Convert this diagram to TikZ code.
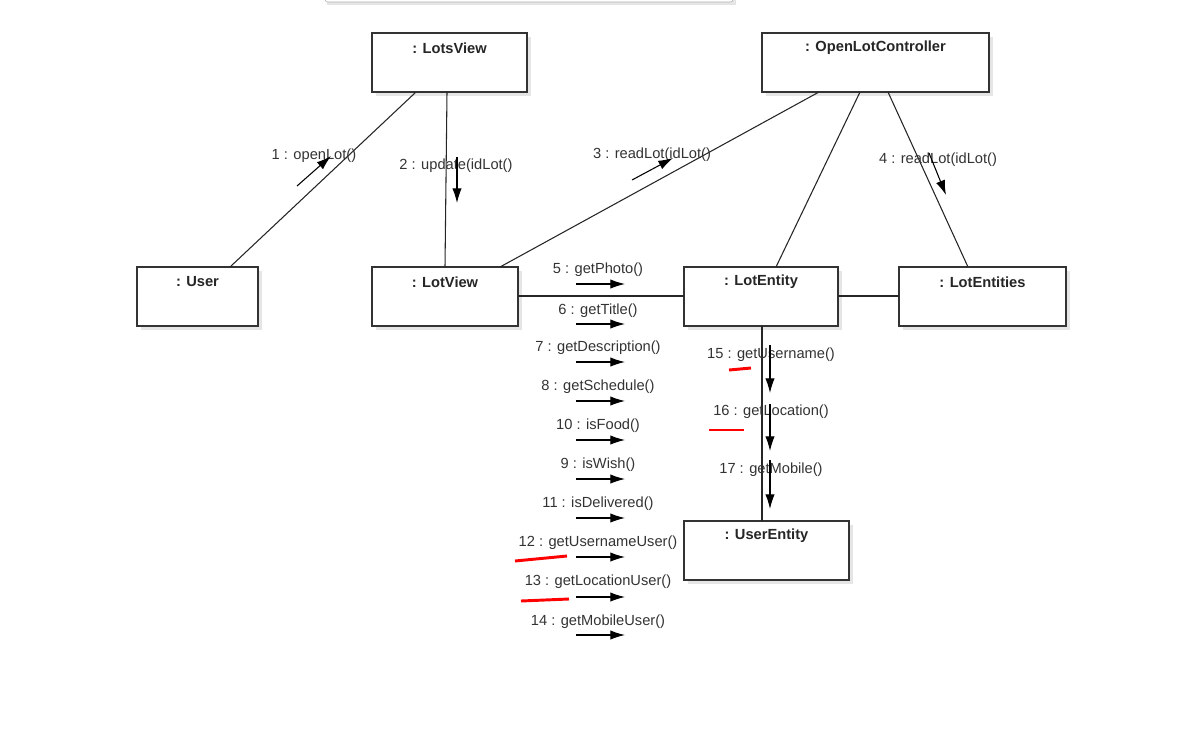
\documentclass[tikz,border=0pt]{standalone}
\usepackage{fontspec}
\setmainfont{Liberation Sans}
\usetikzlibrary{arrows.meta}
\begin{document}
\begin{tikzpicture}[x=0.75pt,y=-0.75pt,
 box/.style={draw=black!80,line width=0.9pt,fill=white},
 sh/.style={fill=black!10,draw=none},
 ttl/.style={font=\fontsize{11}{13}\selectfont\bfseries,text=black!85},
 lbl/.style={font=\fontsize{11}{13}\selectfont,text=black!80,fill=none},
 ln/.style={draw=black!85,line width=0.8pt},
 msg/.style={draw=black,line width=0.8pt,-{Latex[length=11pt,width=7pt]}},
 red/.style={draw=red,line width=2.2pt}]
\useasboundingbox (0,0) rectangle (1197,743);
% partial top box
\fill[black!10] (327,0) rectangle (736,5);
\draw[draw=black!30,fill=white,rounded corners=2pt] (325,-5) rectangle (733,2);
% shadows + boxes
\foreach \n/\a/\b/\c/\d/\t in {lv/372/33/527/92/{: LotsView},olc/762/33/989/92/{: OpenLotController},us/137/267/258/326/{: User},lw/372/267/518/326/{: LotView},le/684/267/838/326/{: LotEntity},les/899/267/1066/326/{: LotEntities},ue/684/521/849/580/{: UserEntity}}{
 \fill[sh] (\a+4,\b+4) rectangle (\c+4,\d+4);
 \draw[box] (\a,\b) rectangle (\c,\d);
 \node[ttl,anchor=center] (\n) at ({(\a+\c)/2},\b+15) {\t};
}
% connectors
\coordinate (a1) at (416,92); \coordinate (a2) at (230,267);
\draw[ln] (a1) -- (a2);
\coordinate (b1) at (447,92); \coordinate (b2) at (445,267);
\draw[ln] (b1) -- (b2);
\coordinate (c1) at (819,92); \coordinate (c2) at (500,267);
\draw[ln] (c1) -- (c2);
\coordinate (d1) at (860,92); \coordinate (d2) at (776,267);
\draw[ln] (d1) -- (d2);
\coordinate (e1) at (888,92); \coordinate (e2) at (968,267);
\draw[ln] (e1) -- (e2);
\coordinate (f1) at (518,296); \coordinate (f2) at (684,296);
\draw[ln] (f1) -- (f2);
\coordinate (g1) at (838,296); \coordinate (g2) at (899,296);
\draw[ln] (g1) -- (g2);
\coordinate (h1) at (762,326); \coordinate (h2) at (762,521);
\draw[ln] (h1) -- (h2);
% messages
\node[lbl] (m1) at (314,156) {1 : openLot()};
\coordinate (m1a) at (297,186); \coordinate (m1b) at (331,156);
\draw[msg] (m1a) -- (m1b);
\node[lbl] (m2) at (456,166) {2 : update(idLot()};
\coordinate (m2a) at (457,157); \coordinate (m2b) at (457,203);
\draw[msg] (m2a) -- (m2b);
\node[lbl] (m3) at (652,155) {3 : readLot(idLot()};
\coordinate (m3a) at (632,180); \coordinate (m3b) at (673,158);
\draw[msg] (m3a) -- (m3b);
\node[lbl] (m4) at (938,160) {4 : readLot(idLot()};
\coordinate (m4a) at (929,153); \coordinate (m4b) at (946,195);
\draw[msg] (m4a) -- (m4b);
\foreach \i/\ly/\ay/\t in {5/270/284/{5 : getPhoto()},6/311/324/{6 : getTitle()},7/348/362/{7 : getDescription()},8/387/401/{8 : getSchedule()},10/426/440/{10 : isFood()},9/465/479/{9 : isWish()},11/504/518/{11 : isDelivered()},12/543/557/{12 : getUsernameUser()},13/582/597/{13 : getLocationUser()},14/622/635/{14 : getMobileUser()}}{
 \node[lbl] (h\i) at (598,\ly) {\t};
 \coordinate (ha\i) at (576,\ay); \coordinate (hb\i) at (625,\ay);
 \draw[msg] (ha\i) -- (hb\i);
}
\foreach \i/\ly/\ya/\yb/\t in {15/355/345/393/{15 : getUsername()},16/412/404/451/{16 : getLocation()},17/470/460/509/{17 : getMobile()}}{
 \node[lbl] (v\i) at (771,\ly) {\t};
 \coordinate (va\i) at (770,\ya); \coordinate (vb\i) at (770,\yb);
 \draw[msg] (va\i) -- (vb\i);
}
% red underlines
\draw[red] (729,370) -- (751,368);
\draw[red] (709,430) -- (744,430);
\draw[red] (515,561) -- (567,556);
\draw[red] (521,601) -- (569,599);
\end{tikzpicture}
\end{document}
